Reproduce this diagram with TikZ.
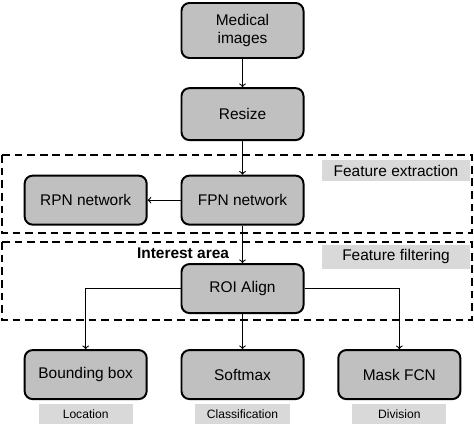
\documentclass[tikz,border=0pt]{standalone}
\usepackage{fontspec}
\setmainfont{Liberation Sans}
\usetikzlibrary{positioning}
\definecolor{boxgray}{HTML}{C0C0C0}
\definecolor{taggray}{HTML}{D9D9D9}
\tikzset{node distance=2.15cm,
  block/.style={draw,line width=1.4pt,rounded corners=0.2cm,fill=boxgray,
    minimum width=3.05cm,minimum height=1.225cm,align=center,font=\fontsize{11}{13}\selectfont},
  tag/.style={fill=taggray,minimum width=2.35cm,minimum height=0.5cm,font=\fontsize{8.6}{10}\selectfont},
  headtag/.style={fill=taggray,minimum width=3.7cm,minimum height=0.5cm,font=\fontsize{11}{13}\selectfont},
  region/.style={line width=1.8pt,dash pattern=on 5.5pt off 3.5pt},
  link/.style={->,line width=0.8pt}}

\begin{document}
\begin{tikzpicture}[x=0.025cm,y=-0.025cm]
        \useasboundingbox (0,0) rectangle (474,425);

        \node [block,minimum height=1.375cm] (med)    at (242.5,30.5)     {Medical\\images};
        \node [block,minimum height=1.3cm]   (resize) [below of=med,node distance=2.09cm] {Resize};
        \node [block]           (fpn)    [below of=resize]   {FPN network};
        \node [block]           (rpn)    [left of=fpn,node distance=3.92cm] {RPN network};
        \node [block]           (roi)    [below of=fpn,node distance=2.21cm] {ROI Align};
        \node [block]           (soft)   [below of=roi]      {Softmax};
        \node [block]           (bbox)   [left of=soft,node distance=3.92cm]  {Bounding box};
        \node [block]           (mask)   [right of=soft,node distance=3.92cm] {Mask FCN};

        \draw [region] (2,155) rectangle (472,233);
        \draw [region] (2,242) rectangle (472,320);

        \node [headtag] (extract) at (396,170.5) {Feature extraction};
        \node [headtag] (filter)  at (396,257)   {Feature filtering};
        \node [font=\fontsize{11}{13}\selectfont\bfseries] (area) at (183,253) {Interest area};

        \node [tag] (loc)   [below=0.1cm of bbox] {Location};
        \node [tag] (class) [below=0.1cm of soft] {Classification};
        \node [tag] (div)   [below=0.1cm of mask] {Division};

        \draw [link] (med)    to (resize);
        \draw [link] (resize) to (fpn);
        \draw [link] (fpn)    to (rpn);
        \draw [link] (fpn)    to (roi);
        \draw [link] (roi)    to (soft);
        \draw [link] (roi.west) -| (bbox);
        \draw [link] (roi.east) -| (mask);
      \end{tikzpicture}
\end{document}
